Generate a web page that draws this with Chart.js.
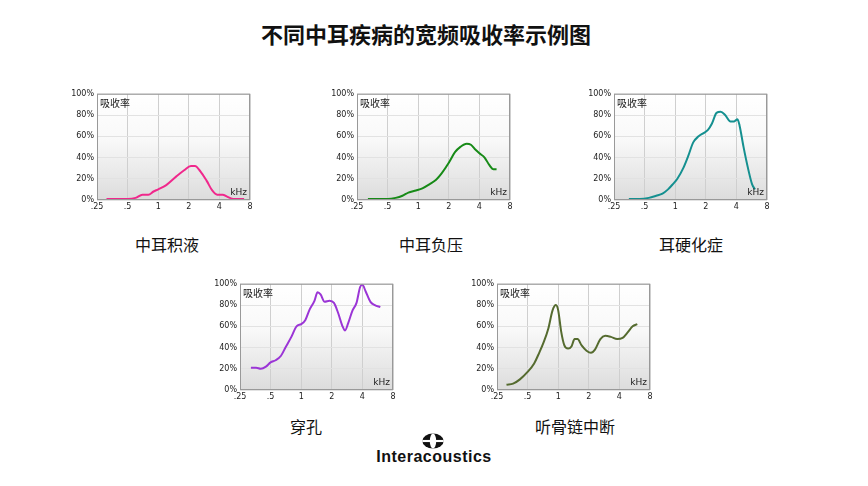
<!DOCTYPE html>
<html><head><meta charset="utf-8">
<script src="https://cdn.jsdelivr.net/npm/chart.js@4"></script>
<style>
body{margin:0;width:868px;height:486px;background:#fff;position:relative;font-family:"Noto Sans CJK SC","Noto Sans",sans-serif;overflow:hidden}
.t{position:absolute;left:-8px;width:868px;text-align:center;top:17px;font-size:22px;font-weight:bold;color:#111}
.cap{position:absolute;font-size:16px;color:#111;transform:translateX(-50%);white-space:nowrap}
.wrap{position:absolute;width:197px;height:128px}
.logo{position:absolute;left:0;width:868px;text-align:center;top:448px;font-family:"Liberation Sans",Arial,sans-serif;font-weight:bold;font-size:16px;letter-spacing:0.5px;color:#111}
</style></head><body>
<div class="t">不同中耳疾病的宽频吸收率示例图</div>
<div class="cap" style="left:167px;top:232px">中耳积液</div>
<div class="cap" style="left:431px;top:232px">中耳负压</div>
<div class="cap" style="left:691px;top:232px">耳硬化症</div>
<div class="cap" style="left:306px;top:414px">穿孔</div>
<div class="cap" style="left:575px;top:414px">听骨链中断</div>
<svg style="position:absolute;left:421px;top:433px" width="24" height="16" viewBox="0 0 22 15">
<ellipse cx="11" cy="7.5" rx="10" ry="7" fill="#111"/><ellipse cx="11" cy="7.5" rx="3" ry="7" fill="#fff"/>
<rect x="1" y="6.5" width="20" height="2" fill="#fff"/></svg>
<div class="logo">Interacoustics</div>

<div class="wrap" style="left:65px;top:86px"><canvas id="c1" width="197" height="128"></canvas></div>
<div class="wrap" style="left:325px;top:86px"><canvas id="c2" width="197" height="128"></canvas></div>
<div class="wrap" style="left:582px;top:86px"><canvas id="c3" width="197" height="128"></canvas></div>
<div class="wrap" style="left:208px;top:276px"><canvas id="c4" width="197" height="128"></canvas></div>
<div class="wrap" style="left:465px;top:276px"><canvas id="c5" width="197" height="128"></canvas></div>
<script>
// --- Data (frequency in kHz, absorbance in %) ---
const TICK_FREQS = [0.25, 0.5, 1, 2, 4, 8];
const TICK_LABELS = ['.25', '.5', '1', '2', '4', '8'];

const effusionF = [0.31,0.4,0.5,0.6,0.7,0.8,0.9,1.0,1.2,1.5,1.8,2.1,2.3,2.6,3.0,3.4,3.8,4.3,4.8,5.5,7];
const effusionA = [1,1,1,2,5,5,8,10,14,22,28,32,32,27,18,9,5,5,3,1,1];

const negPressF = [0.32,0.4,0.5,0.6,0.7,0.8,0.95,1.1,1.3,1.5,1.7,2.0,2.3,2.6,3.0,3.3,3.6,4.0,4.5,5.0,5.5,5.9];
const negPressA = [1,1,1,2,4,7,9,11,15,19,25,35,45,50,53,52,48,44,40,33,29,29];

const otoF = [0.35,0.45,0.55,0.65,0.75,0.85,0.95,1.05,1.2,1.35,1.5,1.7,1.9,2.1,2.3,2.55,2.8,3.1,3.5,3.8,4.1,4.3,4.7,5.2,5.7,6.1];
const otoA = [1,1,2,4,6,10,15,20,30,42,54,60,63,66,72,82,83,80,74,74,76,70,50,30,15,10];

const perfF = [0.32,0.36,0.4,0.45,0.5,0.56,0.63,0.7,0.8,0.9,1,1.1,1.2,1.35,1.45,1.55,1.7,1.9,2.1,2.3,2.55,2.7,2.9,3.2,3.5,3.8,4.0,4.3,4.8,5.3,6];
const perfA = [21,21,20,22,26,28,32,40,50,60,62,66,75,84,92,90,83,84,82,73,60,56,63,75,82,97,99,93,83,80,78];

const discF = [0.31,0.36,0.42,0.5,0.58,0.65,0.72,0.8,0.88,0.95,1.0,1.07,1.15,1.25,1.35,1.45,1.55,1.7,1.9,2.1,2.3,2.6,2.9,3.3,3.8,4.3,4.8,5.4,6];
const discA = [5,6,10,17,25,35,45,58,75,80,75,55,42,39,41,48,48,42,37,35,38,48,51,50,48,49,54,60,62];

// --- Background + inner labels ---
const panelPlugin = {
  id: 'panel',
  beforeDraw(chart) {
    const { ctx, chartArea: a } = chart;
    const g = ctx.createLinearGradient(0, a.top, 0, a.bottom);
    g.addColorStop(0, '#ffffff');
    g.addColorStop(0.45, '#f8f8f8');
    g.addColorStop(1, '#dcdcdc');
    ctx.save();
    ctx.fillStyle = g;
    ctx.fillRect(a.left, a.top, a.right - a.left, a.bottom - a.top);
    ctx.restore();
  },
  afterDatasetsDraw(chart) {
    const { ctx, chartArea: a } = chart;
    ctx.save();
    ctx.fillStyle = '#222';
    ctx.font = '10px "Noto Sans CJK SC", sans-serif';
    ctx.textBaseline = 'top';
    ctx.fillText('吸收率', a.left + 3, a.top + 4);
    ctx.font = '9px "DejaVu Sans", sans-serif';
    ctx.textAlign = 'right';
    ctx.textBaseline = 'bottom';
    ctx.fillText('kHz', a.right - 3, a.bottom - 3);
    ctx.strokeStyle = '#999';
    ctx.lineWidth = 1;
    ctx.strokeRect(a.left + 0.5, a.top + 0.5, a.right - a.left - 1, a.bottom - a.top - 1);
    ctx.restore();
  }
};

function makeChart(id, freqs, vals, color) {
  const pts = freqs.map((f, i) => ({ x: Math.log2(f), y: vals[i] }));
  return new Chart(document.getElementById(id), {
    type: 'line',
    data: { datasets: [{ data: pts, borderColor: color, borderWidth: 2, pointRadius: 0,
      cubicInterpolationMode: 'monotone', fill: false }] },
    options: {
      responsive: false, animation: false,
      layout: { padding: { top: 6, right: 12 } },
      plugins: { legend: { display: false }, tooltip: { enabled: false } },
      scales: {
        x: {
          type: 'linear', min: -2, max: 3,
          afterBuildTicks: s => { s.ticks = TICK_FREQS.map(f => ({ value: Math.log2(f) })); },
          afterFit: s => { s.height = 14; },
          ticks: { color: '#222', font: { size: 8, family: 'DejaVu Sans' }, padding: 2,
            callback: v => TICK_LABELS[TICK_FREQS.findIndex(f => Math.abs(Math.log2(f) - v) < 1e-6)] },
          grid: { color: '#cfcfcf', drawTicks: false },
          border: { display: false }
        },
        y: {
          min: 0, max: 100,
          afterFit: s => { s.width = 32; },
          ticks: { stepSize: 10, color: '#222', font: { size: 8, family: 'DejaVu Sans' }, padding: 3,
            callback: v => (v % 20 === 0 ? v + '%' : '') },
          grid: { color: '#e2e2e2', drawTicks: false },
          border: { display: false }
        }
      }
    },
    plugins: [panelPlugin]
  });
}

makeChart('c1', effusionF, effusionA, '#f0288c');
makeChart('c2', negPressF, negPressA, '#178a17');
makeChart('c3', otoF, otoA, '#159090');
makeChart('c4', perfF, perfA, '#9b35d6');
makeChart('c5', discF, discA, '#556b2f');
</script>
</body></html>
